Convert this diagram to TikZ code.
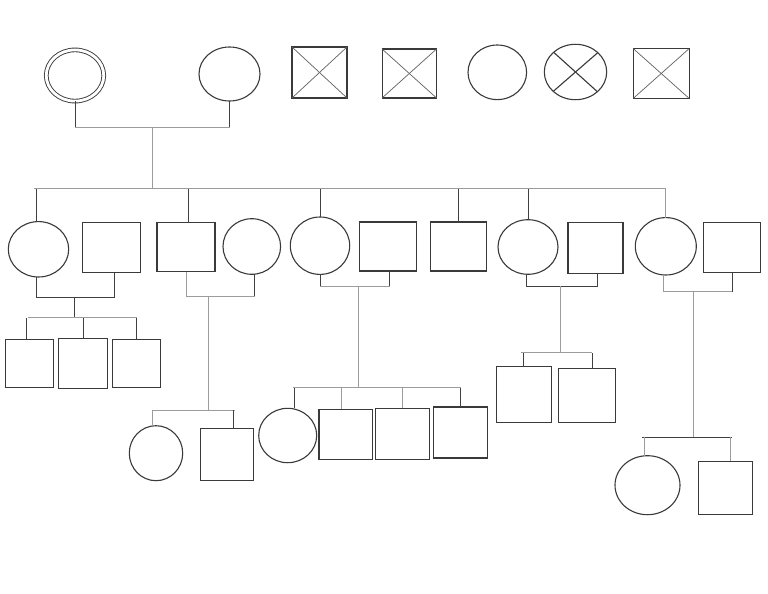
\documentclass[tikz,border=0pt]{standalone}
\usetikzlibrary{shapes.geometric}
\definecolor{outl}{HTML}{3A3A3A}
\definecolor{dk}{HTML}{404040}
\definecolor{lt}{HTML}{9C9C9C}
\tikzset{
  fem/.style={ellipse, draw=outl, line width=1.1pt, inner sep=0pt, outer sep=0pt},
  mal/.style={rectangle, draw=outl, line width=1.1pt, inner sep=0pt, outer sep=0pt},
  sz/.style n args={2}{minimum width=#1pt, minimum height=#2pt},
  crossl/.style={draw=outl!80, line width=0.7pt},
  crossd/.style={draw=outl, line width=1.1pt},
  dline/.style={draw=dk, line width=1pt},
  lline/.style={draw=lt, line width=1pt},
}
\begin{document}
\begin{tikzpicture}[x=1pt,y=-1pt]
\useasboundingbox[fill=white] (0,0) rectangle (768,594);

% generation 1
\node[fem, sz={57.5}{51.2}, double=white, double distance=2.8pt, line width=0.9pt] (dc) at (75,75.5) {};
\node[fem, sz={61}{54}] (p2) at (229.5,74) {};
\node[mal, sz={55}{51}] (x1) at (319.5,72.5) {};
\node[mal, sz={54.5}{49}] (x2) at (409.3,73.5) {};
\node[fem, sz={58.6}{54.6}] (c3) at (497.3,72.3) {};
\node[fem, sz={62.4}{55.4}] (xc) at (575.5,72) {};
\node[mal, sz={55.7}{49.6}] (x3) at (661.2,73.5) {};
\foreach \n in {x1,x2,x3}{
  \draw[crossl] (\n.north west) -- (\n.south east);
  \draw[crossl] (\n.north east) -- (\n.south west);
}
\draw[crossd] (xc.41.6) -- (xc.221.6);
\draw[crossd] (xc.138.4) -- (xc.318.4);

% generation 2
\node[fem, sz={60.4}{55.4}] (A) at (38.5,249.3) {};
\node[mal, sz={58}{50}] (B) at (111.3,247.7) {};
\node[mal, sz={58}{49}] (C) at (186,247.2) {};
\node[fem, sz={57.6}{55.6}] (D) at (251.8,246.5) {};
\node[fem, sz={59.4}{57.4}] (E) at (320,245.7) {};
\node[mal, sz={57}{49}] (F) at (387.8,246.5) {};
\node[mal, sz={56}{49}] (G) at (458.3,246.5) {};
\node[fem, sz={60}{54.6}] (H) at (528,247) {};
\node[mal, sz={55}{51}] (I) at (595.5,248.2) {};
\node[fem, sz={61}{57.4}] (J) at (665.8,246.3) {};
\node[mal, sz={57.4}{49.6}] (K) at (732,247.5) {};

% generation 3
\node[mal, sz={48}{48}] (a1) at (29.3,363.3) {};
\node[mal, sz={49.4}{50}] (a2) at (83,363.3) {};
\node[mal, sz={47.6}{48}] (a3) at (136.5,363.3) {};
\node[fem, sz={53.4}{55}] (c1) at (156,453.2) {};
\node[mal, sz={53}{51.7}] (c2) at (227.2,454.2) {};
\node[fem, sz={58}{54.4}] (e1) at (287.7,435.5) {};
\node[mal, sz={53.7}{49.7}] (e2) at (345.8,434.2) {};
\node[mal, sz={54.4}{50.7}] (e3) at (402.5,433.7) {};
\node[mal, sz={54.4}{51}] (e4) at (460.5,432.5) {};
\node[mal, sz={54.7}{56}] (h1) at (523.7,394.3) {};
\node[mal, sz={57}{53.6}] (h2) at (587.2,395.5) {};
\node[fem, sz={65}{59}] (j1) at (647.5,485.2) {};
\node[mal, sz={53.6}{53}] (j2) at (725.5,487.8) {};

% junctions
\coordinate (mP) at (152,127.5);
\coordinate (sibL) at (34,188.5);
\coordinate (mAB) at (74,297.7);
\coordinate (kAB) at (74,317.7);
\coordinate (mCD) at (208,296);
\coordinate (kCD) at (208,410);
\coordinate (mEF) at (358.7,286);
\coordinate (kEF) at (358.7,387.7);
\coordinate (mHI) at (560.7,286.3);
\coordinate (kHI) at (560.7,352.5);
\coordinate (mJK) at (693.3,291.7);
\coordinate (kJK) at (693.3,437.3);

% gen 1 marriage and descent
\draw[dline] (dc.south) -- (dc.south |- mP);
\draw[dline] (p2.south) -- (p2.south |- mP);
\draw[lline] (dc.south |- mP) -- (p2.south |- mP);
\draw[lline] (mP) -- (mP |- sibL);
% sibship line
\draw[lline] (sibL) -- (J.north |- sibL);
\draw[dline] ([xshift=-2.5pt]A.north) -- ([xshift=-2.5pt]A.north |- sibL);
\draw[dline] ([xshift=2.7pt]C.north) -- ([xshift=2.7pt]C.north |- sibL);
\draw[dline] (E.north) -- (E.north |- sibL);
\draw[dline] (G.north) -- (G.north |- sibL);
\draw[dline] (H.north) -- (H.north |- sibL);
\draw[lline] (J.north) -- (J.north |- sibL);

% A-B family
\draw[dline] ([xshift=-1.8pt]A.south) |- (mAB) -| ([xshift=3.4pt]B.south);
\draw[dline] (mAB) -- (kAB);
\draw[lline] ([xshift=-1pt]a1.north |- kAB) -- (a3.north |- kAB);
\draw[dline] ([xshift=-2.6pt]a1.north) -- ([xshift=-2.6pt]a1.north |- kAB);
\draw[dline] (a2.north) -- (a2.north |- kAB);
\draw[dline] (a3.north) -- (a3.north |- kAB);

% C-D family
\draw[lline] (C.south) |- (mCD);
\draw[lline] (mCD) -| ([xshift=3pt]D.south);
\draw[dline] ([xshift=3pt]D.south) -- ([xshift=3pt]D.south |- mCD);
\draw[lline] (mCD) -- (kCD);
\draw[lline] ([xshift=-3.5pt]c1.north |- kCD) -- ([xshift=8pt]c2.north |- kCD);
\draw[lline] ([xshift=-3.3pt]c1.north) -- ([xshift=-3.3pt]c1.north |- kCD);
\draw[dline] ([xshift=6pt]c2.north) -- ([xshift=6pt]c2.north |- kCD);

% E-F family
\draw[dline] (E.south) -- (E.south |- mEF);
\draw[lline] (E.south |- mEF) -- ([xshift=2pt]F.south |- mEF);
\draw[dline] ([xshift=2pt]F.south) -- ([xshift=2pt]F.south |- mEF);
\draw[lline] (mEF) -- (kEF);
\draw[lline] ([xshift=5.6pt]e1.north |- kEF) -- (e4.north |- kEF);
\draw[dline] ([xshift=7pt]e1.north) -- ([xshift=7pt]e1.north |- kEF);
\draw[lline] ([xshift=-4pt]e2.north) -- ([xshift=-4pt]e2.north |- kEF);
\draw[lline] (e3.north) -- (e3.north |- kEF);
\draw[dline] (e4.north) -- (e4.north |- kEF);

% H-I family
\draw[dline] ([xshift=-1.3pt]H.south) |- (mHI) -| ([xshift=1.8pt]I.south);
\draw[lline] (mHI) -- (kHI);
\draw[lline] ([xshift=-2.7pt]h1.north |- kHI) -- ([xshift=5pt]h2.north |- kHI);
\draw[dline] (h1.north) -- (h1.north |- kHI);
\draw[dline] ([xshift=5pt]h2.north) -- ([xshift=5pt]h2.north |- kHI);

% J-K family
\draw[lline] ([xshift=-2.5pt]J.south) |- (mJK);
\draw[lline] (mJK) -| (K.south);
\draw[dline] (K.south) -- (K.south |- mJK);
\draw[lline] (mJK) -- (kJK);
\draw[dline] ([xshift=-5.2pt]j1.north |- kJK) -- ([xshift=6.2pt]j2.north |- kJK);
\draw[lline] ([xshift=-3.5pt]j1.north) -- ([xshift=-3.5pt]j1.north |- kJK);
\draw[lline] ([xshift=5.2pt]j2.north) -- ([xshift=5.2pt]j2.north |- kJK);
\end{tikzpicture}
\end{document}
